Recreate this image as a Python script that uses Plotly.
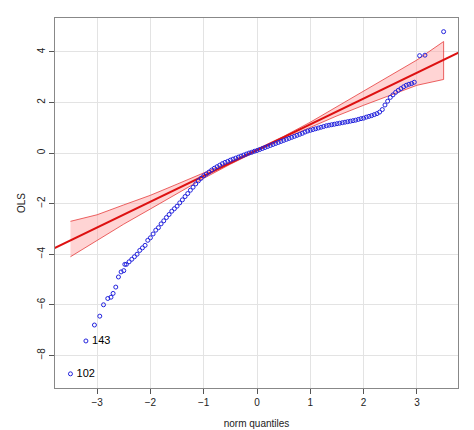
import plotly.graph_objects as go

# observed points: theoretical normal quantile, studentized residual
qx = [-3.50,-3.21,-3.05,-2.95,-2.88,-2.80,-2.74,-2.70,-2.65,-2.60,-2.55,-2.50,-2.48,-2.45,-2.40,-2.35,-2.30,-2.25,-2.20,-2.15,-2.10,-2.05,-2.00,-1.95,-1.90,-1.85,
      -1.80,-1.75,-1.70,-1.65,-1.60,-1.55,-1.50,-1.45,-1.40,-1.35,-1.30,-1.25,-1.20,-1.15,-1.10,-1.05,-1.00,-0.95,-0.90,-0.85,-0.80,-0.75,-0.70,-0.65,-0.60,-0.55,-0.50,-0.45,-0.40,-0.35,-0.30,-0.25,-0.20,-0.15,-0.10,-0.05,
      0.00,0.05,0.10,0.15,0.20,0.25,0.30,0.35,0.40,0.45,0.50,0.55,0.60,0.65,0.70,0.75,0.80,0.85,0.90,0.95,1.00,1.05,1.10,1.15,1.20,1.25,1.30,1.35,1.40,1.45,1.50,1.55,1.60,1.65,1.70,1.75,1.80,1.85,1.90,1.95,2.00,2.05,2.10,2.15,2.20,2.25,2.30,2.35,2.40,
      2.45,2.50,2.55,2.60,2.65,2.70,2.75,2.80,2.85,2.90,2.95,3.05,3.15,3.50]
qy = [-8.73,-7.43,-6.80,-6.45,-6.00,-5.75,-5.70,-5.55,-5.30,-4.90,-4.70,-4.65,-4.40,-4.40,-4.30,-4.20,-4.10,-4.00,-3.85,-3.75,-3.65,-3.45,-3.35,-3.20,-3.05,-2.95,
      -2.80,-2.68,-2.55,-2.43,-2.30,-2.20,-2.10,-1.97,-1.85,-1.72,-1.60,-1.47,-1.35,-1.22,-1.10,-1.00,-0.90,-0.83,-0.75,-0.67,-0.60,-0.54,-0.48,-0.42,-0.37,-0.33,-0.28,-0.24,-0.20,-0.16,-0.12,-0.08,-0.04,0.00,0.03,0.07,
      0.10,0.14,0.18,0.22,0.26,0.30,0.34,0.38,0.42,0.46,0.50,0.54,0.58,0.62,0.66,0.70,0.74,0.78,0.83,0.87,0.90,0.93,0.96,0.99,1.02,1.05,1.08,1.10,1.12,1.14,1.16,1.18,1.20,1.22,1.24,1.26,1.28,1.30,1.33,1.36,1.38,1.42,1.45,1.48,1.52,1.56,1.62,1.72,1.90,
      2.05,2.20,2.30,2.40,2.48,2.55,2.62,2.68,2.72,2.75,2.80,3.85,3.87,4.80]
label_x = [-3.50, -3.21]
label_y = [-8.73, -7.43]
label_text = ["102", "143"]

# reference line
line_x = [-3.8, 3.8]
line_y = [-3.76, 3.99]

# confidence envelope
env_x = [-3.5,-3.0,-2.5,-2.0,-1.5,-1.0,-0.5,0.0,0.5,1.0,1.5,2.0,2.5,3.0,3.5]
env_up = [-2.70,-2.44,-2.05,-1.67,-1.23,-0.80,-0.34,0.16,0.66,1.22,1.83,2.43,3.05,3.68,4.41]
env_lo = [-4.10,-3.44,-2.81,-2.21,-1.59,-1.00,-0.44,0.08,0.56,1.02,1.47,1.89,2.29,2.68,2.91]

fig = go.Figure()
fig.add_trace(go.Scatter(x=env_x + env_x[::-1], y=env_up + env_lo[::-1], fill="toself",
                         fillcolor="rgba(255,160,160,0.45)", line=dict(color="rgba(230,60,60,0.8)", width=1),
                         mode="lines", hoverinfo="skip"))
fig.add_trace(go.Scatter(x=line_x, y=line_y, mode="lines", line=dict(color="#dd1111", width=2)))
fig.add_trace(go.Scatter(x=qx, y=qy, mode="markers",
                         marker=dict(symbol="circle-open", size=4, color="#2222dd", line=dict(width=1))))
fig.add_trace(go.Scatter(x=label_x, y=label_y, mode="text", text=["  " + t for t in label_text],
                         textposition="middle right", textfont=dict(size=11, color="black")))

axis = dict(showgrid=True, gridcolor="#e3e3e3", zeroline=False, showline=True, linecolor="#888888", mirror=True,
            ticks="outside", ticklen=5, tickcolor="#555555", tickfont=dict(size=10, color="#222"))
fig.update_xaxes(range=[-3.79, 3.77], tickvals=[-3, -2, -1, 0, 1, 2, 3],
                 title=dict(text="norm quantiles", font=dict(size=10, color="#222"), standoff=12), **axis)
fig.update_yaxes(range=[-9.29, 5.34], tickvals=[-8, -6, -4, -2, 0, 2, 4], tickangle=-90,
                 title=dict(text="OLS", font=dict(size=10, color="#222"), standoff=8), **axis)
fig.update_layout(width=474, height=430, margin=dict(l=47, r=24, t=10, b=50), showlegend=False,
                  plot_bgcolor="white", paper_bgcolor="white", font=dict(family="Liberation Sans"))
fig.write_html("out.html")
